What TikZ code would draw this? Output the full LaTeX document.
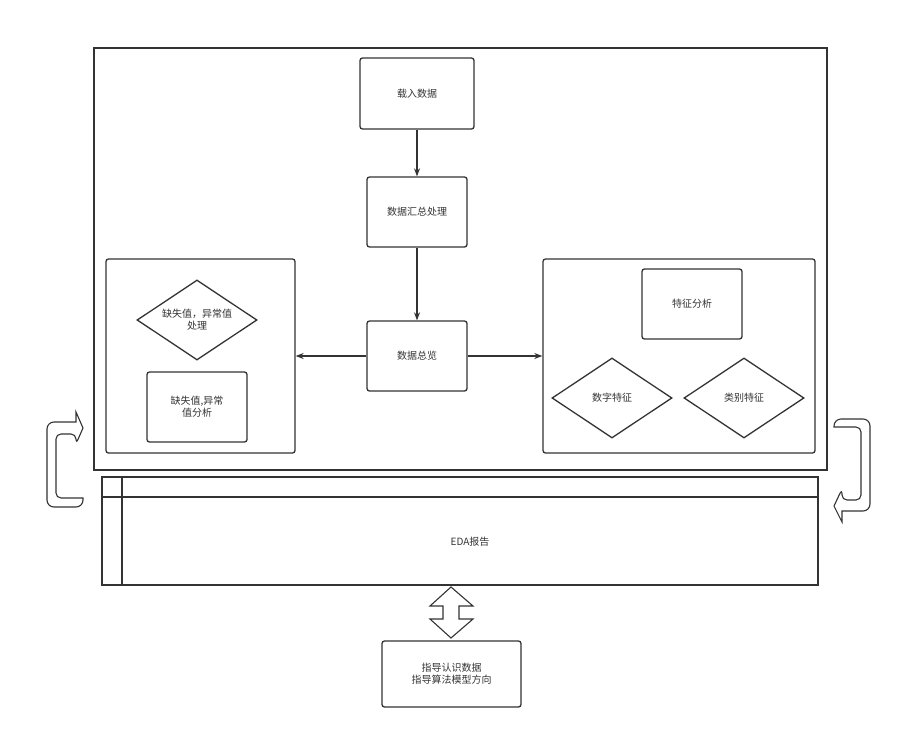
\documentclass[tikz,border=0pt]{standalone}
\usepackage{fontspec}
\setmainfont{Noto Sans CJK SC}
\usetikzlibrary{shapes.geometric,arrows.meta}
\definecolor{ln}{HTML}{333333}
\begin{document}
\begin{tikzpicture}[x=1pt,y=-1pt,line width=1.3pt,draw=ln,
  box/.style={draw=ln,rounded corners=2.5pt,inner sep=0pt,font=\fontsize{10}{12}\selectfont,text=ln,align=center},
  dia/.style={draw=ln,diamond,aspect=1.5,minimum width=120pt,minimum height=80pt,inner sep=0pt,font=\fontsize{10}{12}\selectfont,text=ln,align=center},
  arr/.style={-{Stealth[length=8pt,width=6pt]},draw=ln},
  hollow/.style={draw=ln,line width=1.1pt,fill=white,rounded corners=5pt}]
\useasboundingbox (0,0) rectangle (902,739);
\draw[draw=ln] (94,48) rectangle (827,470);
\node[box,minimum width=114pt,minimum height=71pt] (load) at (417,93.5) {载入数据};
\node[box,minimum width=100pt,minimum height=70pt] (sum) at (417,212) {数据汇总处理};
\node[box,minimum width=100pt,minimum height=70pt] (ov) at (417,356) {数据总览};
\node[box,minimum width=189pt,minimum height=194pt] (lp) at (200.5,356) {};
\node[dia] (d1) at (197,320) {缺失值，异常值\\处理};
\node[box,minimum width=100pt,minimum height=70pt] (miss) at (197,407) {缺失值,异常\\值分析};
\node[box,minimum width=272pt,minimum height=194pt] (rp) at (679,356) {};
\node[box,minimum width=100pt,minimum height=70pt] (feat) at (692,304) {特征分析};
\node[dia] (num) at (612,398) {数字特征};
\node[dia] (cat) at (744,398) {类别特征};
\draw[arr] (load) -- (sum);
\draw[arr] (sum) -- (ov);
\draw[arr] (ov.west) -- (lp.east);
\draw[arr] (ov.east) -- (rp.west);
\node[draw=ln,minimum width=716pt,minimum height=108pt,inner sep=0pt,font=\fontsize{10}{12}\selectfont,text=ln] (eda) at (460,531) {};
\node[font=\fontsize{10}{12}\selectfont,text=ln] (edat) at (470,542) {EDA报告};
\draw (102,497) -- (818,497);
\draw (122,477) -- (122,585);
\node[box,minimum width=139pt,minimum height=66pt] (guide) at (451.5,674) {指导认识数据\\指导算法模型方向};
% double arrow
\draw[draw=ln,line width=1.1pt,fill=white] (451,587) -- (473,606) -- (459,606) -- (459,619) -- (473,619) -- (451,638) -- (430,619) -- (443,619) -- (443,606) -- (430,606) -- cycle;
% left hollow arrow
\draw[hollow] (83,498) -- (56,498) -- (56,434) -- (76,434) -- (76,444)[sharp corners] -- (83,428) -- (76,412) -- (76,422)[rounded corners=7pt] -- (47,422) -- (47,507) -- (83,507) [sharp corners]-- cycle;
% right hollow arrow
\draw[hollow] (834,427) -- (861,427) -- (861,500) -- (842,500) -- (842,489)[sharp corners] -- (834,506) -- (842,522) -- (842,511)[rounded corners=7pt] -- (870,511) -- (870,419) -- (834,419)[sharp corners] -- cycle;
\end{tikzpicture}
\end{document}
